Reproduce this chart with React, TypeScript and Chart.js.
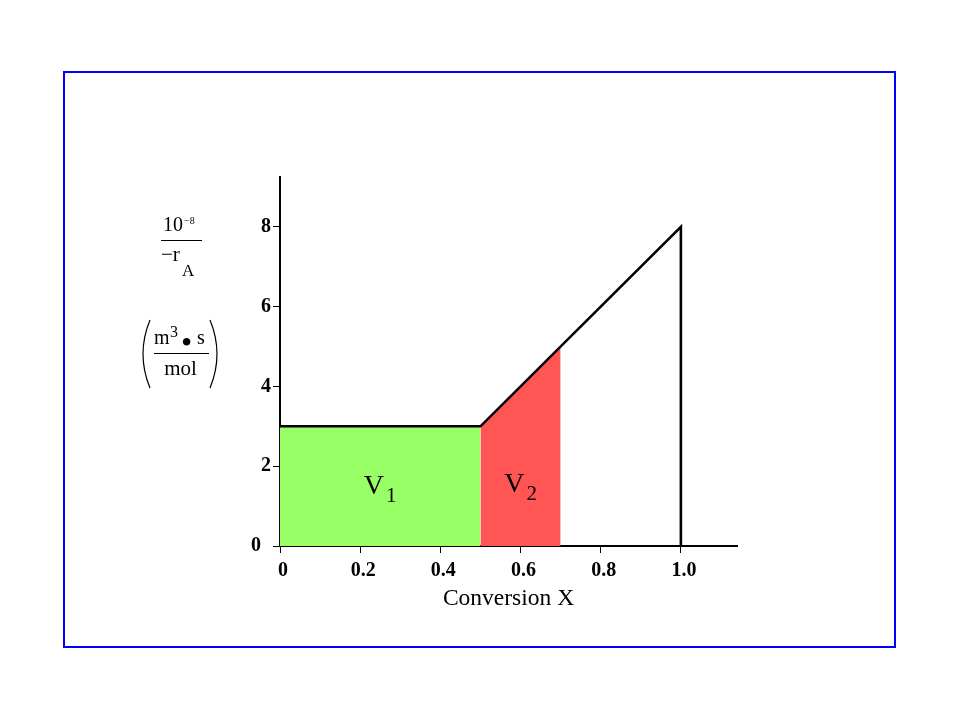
import React, { useEffect, useRef } from "react";
import { Chart, registerables } from "chart.js";

Chart.register(...registerables);

// ---- data ----
const curveX = [0, 0.5, 1.0, 1.0];
const curveY = [3, 3, 8, 0];
const v1X = [0, 0.5];
const v1Y = [3, 3];
const v2X = [0.5, 0.7];
const v2Y = [3, 5];
const xTicks = [0, 0.2, 0.4, 0.6, 0.8, 1.0];
const xTickLabels = ["0", "0.2", "0.4", "0.6", "0.8", "1.0"];
const yTicks = [0, 2, 4, 6, 8];
const yTickLabels = ["0", "2", "4", "6", "8"];
const regionNames = ["V", "V"];
const regionSubs = ["1", "2"];
const regionLabelY = [1.3, 1.35];
const xTitle = "Conversion X";

const SERIF = '"Liberation Serif", "Times New Roman", serif';

const toPoints = (xs: number[], ys: number[]) => xs.map((x, i) => ({ x, y: ys[i] }));

const regionLabelPlugin = {
  id: "regionLabels",
  afterDatasetsDraw(chart: any) {
    const { ctx, scales } = chart;
    const xs = scales.x;
    const ys = scales.y;
    const regions = [v1X, v2X];
    ctx.save();
    ctx.fillStyle = "#000";
    ctx.textBaseline = "alphabetic";
    ctx.textAlign = "left";
    regions.forEach((rx, i) => {
      const cx = xs.getPixelForValue((rx[0] + rx[rx.length - 1]) / 2);
      const by = ys.getPixelForValue(regionLabelY[i]);
      ctx.font = `28px ${SERIF}`;
      const wV = ctx.measureText(regionNames[i]).width;
      ctx.font = `21px ${SERIF}`;
      const wS = ctx.measureText(regionSubs[i]).width;
      const gap = 2;
      const left = cx - (wV + gap + wS) / 2;
      ctx.font = `28px ${SERIF}`;
      ctx.fillText(regionNames[i], left, by);
      ctx.font = `21px ${SERIF}`;
      ctx.fillText(regionSubs[i], left + wV + gap, by + 8);
    });
    ctx.restore();
  },
};

export default function App() {
  const canvasRef = useRef<HTMLCanvasElement | null>(null);

  useEffect(() => {
    if (!canvasRef.current) return;
    const tickFont = { family: SERIF, size: 20, weight: "bold" as const };
    const chart = new Chart(canvasRef.current, {
      type: "line",
      data: {
        datasets: [
          {
            data: toPoints(curveX, curveY),
            borderColor: "#000",
            borderWidth: 2.6,
            fill: false,
            pointRadius: 0,
            tension: 0,
            order: 0,
          },
          {
            data: toPoints(v1X, v1Y),
            borderColor: "rgba(0,0,0,0)",
            borderWidth: 0,
            backgroundColor: "rgb(153,255,102)",
            fill: "origin",
            pointRadius: 0,
            order: 2,
          },
          {
            data: toPoints(v2X, v2Y),
            borderColor: "rgba(0,0,0,0)",
            borderWidth: 0,
            backgroundColor: "rgb(255,85,85)",
            fill: "origin",
            pointRadius: 0,
            order: 1,
          },
        ],
      },
      options: {
        animation: false,
        responsive: false,
        devicePixelRatio: 1,
        layout: { padding: { left: 240, top: 177, right: 222, bottom: 106 } },
        plugins: {
          legend: { display: false },
          tooltip: { enabled: false },
        },
        scales: {
          x: {
            type: "linear",
            min: 0,
            max: 1.14,
            afterFit: (s: any) => {
              s.height = 67;
            },
            afterBuildTicks: (s: any) => {
              s.ticks = xTicks.map((v) => ({ value: v }));
            },
            ticks: {
              callback: (v: any) => xTickLabels[xTicks.indexOf(Number(v))] ?? "",
              font: tickFont,
              color: "#000",
              padding: 6,
              labelOffset: 3,
              autoSkip: false,
              maxRotation: 0,
            },
            grid: {
              display: true,
              drawOnChartArea: false,
              drawTicks: true,
              tickLength: 7,
              color: "#000",
              lineWidth: 1,
            },
            border: { display: true, color: "#000", width: 2 },
            title: {
              display: true,
              text: xTitle,
              font: { family: SERIF, size: 23.5 },
              color: "#000",
              padding: 0,
            },
          },
          y: {
            type: "linear",
            min: 0,
            max: 9.25,
            afterFit: (s: any) => {
              s.width = 40;
            },
            afterBuildTicks: (s: any) => {
              s.ticks = yTicks.map((v) => ({ value: v }));
            },
            ticks: {
              callback: (v: any) => {
                const lbl = yTickLabels[yTicks.indexOf(Number(v))] ?? "";
                return Number(v) === 0 ? lbl + "  " : lbl;
              },
              font: tickFont,
              color: "#000",
              padding: 2,
              autoSkip: false,
            },
            grid: {
              display: true,
              drawOnChartArea: false,
              drawTicks: true,
              tickLength: 7,
              color: "#000",
              lineWidth: 1,
            },
            border: { display: true, color: "#000", width: 2 },
          },
        },
      },
      plugins: [regionLabelPlugin],
    });
    return () => chart.destroy();
  }, []);

  return (
    <div style={{ position: "absolute", left: 0, top: 0, width: 959, height: 719, background: "#fff" }}>
      <div
        style={{
          position: "absolute",
          left: 63,
          top: 71,
          width: 833,
          height: 577,
          border: "2px solid #0000FF",
          boxSizing: "border-box",
        }}
      />
      <canvas
        ref={canvasRef}
        width={959}
        height={719}
        style={{ position: "absolute", left: 0, top: 0, width: 959, height: 719 }}
      />
      <svg
        width={959}
        height={719}
        style={{ position: "absolute", left: 0, top: 0, pointerEvents: "none" }}
        fontFamily={SERIF}
      >
        <text x={163} y={231} fontSize={20} fill="#000">10</text>
        <text x={184} y={224} fontSize={10} fill="#000">−8</text>
        <line x1={161} y1={240.5} x2={202} y2={240.5} stroke="#000" strokeWidth={1} />
        <text x={161} y={261} fontSize={21} fill="#000">−r</text>
        <text x={182} y={276} fontSize={17} fill="#000">A</text>

        <path d="M150 320 Q136 354 150 388" stroke="#000" strokeWidth={1.2} fill="none" />
        <path d="M210 320 Q224 354 210 388" stroke="#000" strokeWidth={1.2} fill="none" />
        <text x={154} y={344} fontSize={20} fill="#000">m</text>
        <text x={170} y={337} fontSize={16} fill="#000">3</text>
        <text x={181} y={353} fontSize={32} fill="#000">•</text>
        <text x={197} y={344} fontSize={20} fill="#000">s</text>
        <line x1={154} y1={353.5} x2={209} y2={353.5} stroke="#000" strokeWidth={1} />
        <text x={180.5} y={375} fontSize={21} textAnchor="middle" fill="#000">mol</text>
      </svg>
    </div>
  );
}
